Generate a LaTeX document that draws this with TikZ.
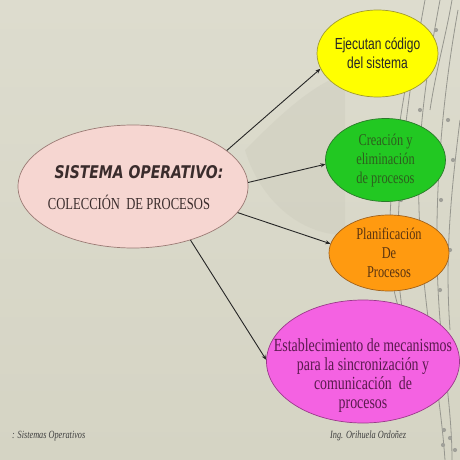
\documentclass[tikz,border=0pt]{standalone}
\usepackage{fontspec}
\setmainfont[FakeStretch=0.75]{Liberation Serif}
\newfontfamily\narrowsans[FakeStretch=0.75]{Liberation Sans}
\newfontfamily\comicfont[FakeStretch=0.8]{DejaVu Sans}
\usetikzlibrary{shapes.geometric,arrows.meta}
\definecolor{bgbase}{HTML}{D5D4C4}
\definecolor{bglight}{HTML}{DDDCCE}
\definecolor{bgdark}{HTML}{CDCCBD}
\definecolor{branch}{HTML}{96968E}
\definecolor{pinkfill}{HTML}{F6D6D1}
\definecolor{pinkline}{HTML}{9A7A74}
\definecolor{yelfill}{HTML}{FFFF00}
\definecolor{yelline}{HTML}{A09A30}
\definecolor{grnfill}{HTML}{22C822}
\definecolor{grnline}{HTML}{2A7A2A}
\definecolor{grntext}{HTML}{2E5E1E}
\definecolor{orgfill}{HTML}{FF9A10}
\definecolor{orgline}{HTML}{A0601A}
\definecolor{orgtext}{HTML}{5A3410}
\definecolor{magfill}{HTML}{F462E2}
\definecolor{magline}{HTML}{9A3A8A}
\definecolor{magtext}{HTML}{5A1A4E}
\definecolor{maintext}{HTML}{3A2C2C}
\tikzset{
  bubble/.style={ellipse, draw, line width=0.7pt, inner sep=0pt},
  label text/.style={inner sep=0pt, align=center},
  conn/.style={draw=black!85, line width=0.9pt, -{Stealth[length=5pt,width=4pt]}},
  twig/.style={draw=branch, line width=0.8pt},
  bead/.style={fill=branch!90, draw=none},
  foot/.style={font=\fontsize{11}{12}\selectfont\itshape, text=black!75, inner sep=0pt}
}
\begin{document}
\begin{tikzpicture}[x=1pt,y=-1pt]
\useasboundingbox (0,0) rectangle (460,460);
% background
\shade[top color=bglight, bottom color=bgbase] (0,0) rectangle (460,460);
\fill[bgdark, opacity=0.45] (245,150) .. controls (270,125) and (300,95) .. (330,80) -- (345,75) -- (345,235) .. controls (300,235) and (260,200) .. cycle;
% branches
\draw[twig] (440,0) .. controls (425,80) and (415,150) .. (420,230) .. controls (425,320) and (440,390) .. (445,460);
\draw[twig] (458,10) .. controls (440,110) and (432,220) .. (440,320) .. controls (446,380) and (452,420) .. (452,460);
\draw[twig] (425,0) .. controls (412,70) and (400,150) .. (398,230) .. controls (396,290) and (405,330) .. (412,350);
\draw[twig] (460,120) .. controls (450,200) and (445,260) .. (450,330);
\draw[twig] (405,90) .. controls (395,150) and (388,200) .. (390,260) .. controls (392,290) and (398,305) .. (402,320);
\draw[twig] (452,0) .. controls (445,40) and (436,70) .. (430,110);
\foreach \p in {(436,30),(428,70),(420,110),(418,180),(421,260),(430,330),(438,380),(444,430),(443,445),(450,438),(455,450),(448,120),(441,200),(440,290),(447,360),(401,200),(399,250),(407,310),(394,150),(453,160),(450,250)}
  \fill[bead] \p circle (2.1pt);
% nodes
\node[bubble, fill=pinkfill, draw=pinkline, minimum width=230pt, minimum height=123pt] (main) at (133,186.5) {};
\node[label text, font=\comicfont\bfseries\itshape\fontsize{17.5}{19}\selectfont, text=maintext] (title) at (139,172) {SISTEMA OPERATIVO:};
\node[label text, font=\fontsize{16.8}{18}\selectfont, text=maintext] (sub) at (129,202) {COLECCIÓN\ \ DE PROCESOS};
\node[bubble, fill=yelfill, draw=yelline, minimum width=121pt, minimum height=87pt] (yel) at (377.5,53.5) {};
\node[label text, font=\narrowsans\fontsize{16}{19}\selectfont, text=black!85] (yeltxt) at (yel) {Ejecutan código\\del sistema};
\node[bubble, fill=grnfill, draw=grnline, minimum width=120pt, minimum height=83pt] (grn) at (385.5,160) {};
\node[label text, font=\fontsize{16.5}{19}\selectfont, text=grntext] (grntxt) at (385.5,161) {Creación y\\eliminación\\de procesos};
\node[bubble, fill=orgfill, draw=orgline, minimum width=120pt, minimum height=76pt] (org) at (389,253) {};
\node[label text, font=\fontsize{16.5}{19}\selectfont, text=orgtext] (orgtxt) at (389,253) {Planificación\\De\\Procesos};
\node[bubble, fill=magfill, draw=magline, minimum width=193pt, minimum height=123pt] (mag) at (363,361.5) {};
\node[label text, font=\fontsize{18.5}{19}\selectfont, text=magtext] (magtxt) at (363,376) {Establecimiento de mecanismos\\para la sincronización y\\comunicación\ \ de\\procesos};
% connectors
\draw[conn] (main.21) -- (yel.195);
\draw[conn] (main.2) -- (grn.184);
\draw[conn] (main.346) -- (org.171);
\draw[conn] (main.317) -- (mag.179);
% footer
\node[foot, anchor=west] (f1) at (12,436) {: Sistemas Operativos};
\node[foot, anchor=west] (f2) at (330,436) {Ing. Orihuela Ordoñez};
\end{tikzpicture}
\end{document}
